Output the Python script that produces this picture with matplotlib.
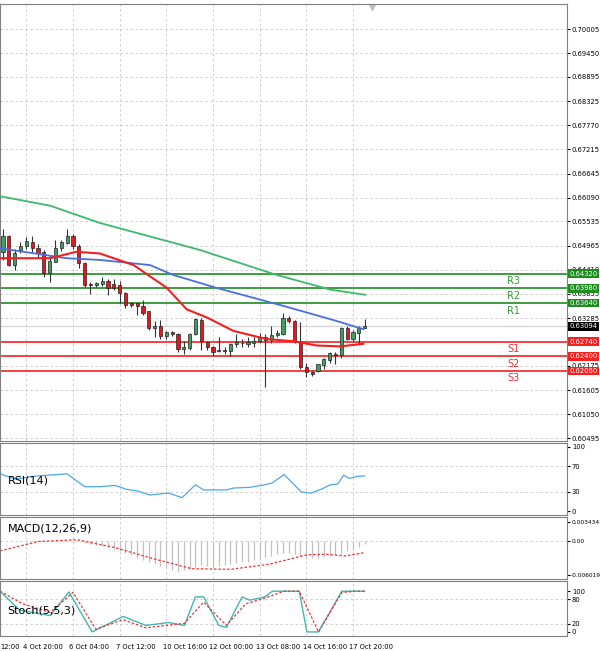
import numpy as np
import matplotlib
matplotlib.use("Agg")
from matplotlib import pyplot as plt

# OHLC candles (open, close, high, low)
opens = [0.6483, 0.6518, 0.6452, 0.6487, 0.6497, 0.6506, 0.6491, 0.6481, 0.6433, 0.6460,
         0.6492, 0.6504, 0.6520, 0.6497, 0.6456, 0.6408, 0.6405, 0.6408, 0.6414, 0.6407,
         0.6406, 0.6387, 0.6364, 0.6364, 0.6357, 0.6344, 0.6305, 0.6311, 0.6288, 0.6295,
         0.6292, 0.6257, 0.6259, 0.6292, 0.6324, 0.6272, 0.6262, 0.6253, 0.6253, 0.6252,
         0.6268, 0.6270, 0.6269, 0.6270, 0.6276, 0.6285, 0.6278, 0.6290, 0.6292, 0.6328,
         0.6322, 0.6272, 0.6215, 0.6203, 0.6206, 0.6220, 0.6231, 0.6243, 0.6242, 0.6305,
         0.6280, 0.6294, 0.6306]
closes = [0.6518, 0.6452, 0.6480, 0.6497, 0.6508, 0.6491, 0.6479, 0.6433, 0.6460, 0.6491,
          0.6506, 0.6520, 0.6497, 0.6456, 0.6406, 0.6405, 0.6410, 0.6414, 0.6399, 0.6399,
          0.6387, 0.6360, 0.6360, 0.6357, 0.6341, 0.6305, 0.6311, 0.6288, 0.6295, 0.6291,
          0.6257, 0.6262, 0.6292, 0.6326, 0.6275, 0.6261, 0.6249, 0.6252, 0.6252, 0.6269,
          0.6272, 0.6271, 0.6272, 0.6276, 0.6285, 0.6278, 0.6290, 0.6293, 0.6328, 0.6321,
          0.6275, 0.6215, 0.6203, 0.6198, 0.6221, 0.6232, 0.6246, 0.6244, 0.6305, 0.6280,
          0.6295, 0.6305, 0.6309]
highs = [0.6537, 0.6521, 0.6490, 0.6505, 0.6518, 0.6520, 0.6500, 0.6488, 0.6475, 0.6510,
         0.6510, 0.6535, 0.6525, 0.6500, 0.6460, 0.6412, 0.6413, 0.6425, 0.6420, 0.6420,
         0.6415, 0.6390, 0.6367, 0.6365, 0.6370, 0.6345, 0.6322, 0.6325, 0.6298, 0.6298,
         0.6295, 0.6275, 0.6295, 0.6330, 0.6330, 0.6275, 0.6265, 0.6285, 0.6262, 0.6272,
         0.6292, 0.6280, 0.6285, 0.6285, 0.6295, 0.6292, 0.6310, 0.6300, 0.6340, 0.6333,
         0.6325, 0.6320, 0.6225, 0.6205, 0.6222, 0.6235, 0.6250, 0.6250, 0.6308, 0.6310,
         0.6302, 0.6310, 0.6327]
lows = [0.6464, 0.6449, 0.6440, 0.6480, 0.6490, 0.6480, 0.6470, 0.6425, 0.6412, 0.6460,
        0.6485, 0.6500, 0.6490, 0.6445, 0.6400, 0.6385, 0.6400, 0.6403, 0.6383, 0.6395,
        0.6365, 0.6352, 0.6355, 0.6335, 0.6335, 0.6300, 0.6285, 0.6280, 0.6280, 0.6288,
        0.6250, 0.6245, 0.6255, 0.6290, 0.6255, 0.6255, 0.6240, 0.6250, 0.6245, 0.6240,
        0.6262, 0.6262, 0.6262, 0.6262, 0.6270, 0.6168, 0.6270, 0.6285, 0.6290, 0.6318,
        0.6272, 0.6210, 0.6192, 0.6195, 0.6203, 0.6210, 0.6225, 0.6222, 0.6235, 0.6278,
        0.6275, 0.6268, 0.6305]

# moving averages (bar index, value)
ma_green_x = [-0.5, 8.1, 16.6, 33.8, 46.7, 56.1, 62.1]
ma_green_y = [0.6612, 0.6590, 0.6550, 0.6487, 0.6430, 0.6395, 0.6383]
ma_blue_x = [-0.5, 10.9, 16.6, 25.2, 29.2, 36.6, 48.1, 56.7, 61.8]
ma_blue_y = [0.6491, 0.6468, 0.6464, 0.6452, 0.6429, 0.6399, 0.6357, 0.6324, 0.6303]
ma_red_x = [-0.5, 8.1, 12.6, 16.6, 22.4, 28.1, 31.5, 35.0, 39.5, 45.2, 49.8, 53.8, 57.8, 61.8]
ma_red_y = [0.6468, 0.6468, 0.6483, 0.6479, 0.6452, 0.6399, 0.6349, 0.6330, 0.6299,
            0.6280, 0.6275, 0.6265, 0.6263, 0.6269]

res_levels = [0.64320, 0.63980, 0.63640]
res_names = ["R3", "R2", "R1"]
sup_levels = [0.62740, 0.62400, 0.62060]
sup_names = ["S1", "S2", "S3"]
last_price = 0.63094

price_ticks = [0.70005, 0.69450, 0.68895, 0.68325, 0.67770, 0.67215, 0.66645, 0.66090,
               0.65535, 0.64965, 0.64410, 0.63855, 0.63285, 0.62175, 0.61605, 0.61050, 0.60495]

rsi_x = [-0.5, 2.1, 6.1, 11, 14, 16.6, 19.2, 21.2, 23.2, 25.2, 27.1, 28.4, 30.7, 33, 34.4,
         38.3, 39.6, 42.3, 44.9, 46.2, 48.2, 51.1, 52.8, 54.8, 56.1, 57.4, 58.4, 59.4, 60.7, 62]
rsi_y = [58, 50, 55, 58, 38, 38, 40, 34, 31, 25, 27, 28, 21, 41, 33, 33, 36, 37, 41, 44,
         57, 30, 28, 35, 41, 42, 56, 51, 54, 55]

macd_hist = [0, 0, 0, 0, 0, 0, 0, 0, 0, 0, 0, 0, 0, 0, -0.0002, -0.0004, -0.0006, -0.0008,
             -0.0010, -0.0013, -0.0017, -0.0021, -0.0025, -0.0029, -0.0033, -0.0037, -0.0040,
             -0.0044, -0.0048, -0.0051, -0.0054, -0.0052, -0.0050, -0.0046, -0.0043, -0.0044,
             -0.0045, -0.0044, -0.0043, -0.0040, -0.0038, -0.0037, -0.0036, -0.0033, -0.0031,
             -0.0028, -0.0026, -0.0023, -0.0020, -0.0021, -0.0022, -0.0026, -0.0030, -0.0030,
             -0.0030, -0.0028, -0.0026, -0.0024, -0.0022, -0.0018, -0.0015, -0.0010, -0.0005]
macd_sig_x = [-0.5, 6.1, 12.7, 19.2, 25.8, 32.4, 39, 45.6, 52.1, 55.4, 58.7, 62]
macd_sig_y = [-0.0017, 0.0, 0.0003, -0.0011, -0.0031, -0.0049, -0.0050, -0.0041,
              -0.0024, -0.0023, -0.0026, -0.0020]

stoch_k_x = [-0.5, 2.8, 8.1, 11.3, 15.3, 20.6, 24.5, 28.4, 31.1, 33, 34.4, 37, 38.3, 41,
             42.3, 44.9, 46.2, 48.8, 50.8, 52.1, 54.1, 58.1, 59.4, 62]
stoch_k_y = [100, 54, 40, 98, 0, 38, 16, 23, 16, 86, 86, 16, 11, 86, 78, 86, 100, 100,
             100, 0, 0, 100, 100, 100]
stoch_d_x = [-0.5, 3.4, 8.1, 12, 15.9, 20.6, 24.5, 31.1, 34.4, 38.3, 41.6, 44.9, 48.2,
             50.8, 54.1, 58.1, 60.7, 62]
stoch_d_y = [100, 69, 48, 97, 7, 30, 10, 21, 73, 16, 69, 83, 100, 100, 0, 97, 100, 100]

date_idx = [4, 12, 20, 28, 36, 44, 52, 60]
date_labels = ["4 Oct 20:00", "6 Oct 04:00", "7 Oct 12:00", "10 Oct 16:00",
               "12 Oct 00:00", "13 Oct 08:00", "14 Oct 16:00", "17 Oct 20:00"]

W, H = 600, 651
fig = plt.figure(figsize=(W / 100, H / 100), dpi=100)
XL = (-0.51, 96.7)
RIGHT = 567 / W
GRID = dict(color="#c8c8c8", linestyle=(0, (3, 3)), linewidth=0.6)
FS = 4.9


def panel(top_px, bot_px):
    ax = fig.add_axes([0, 1 - bot_px / H, RIGHT, (bot_px - top_px) / H])
    ax.set_xlim(*XL)
    ax.set_xticks([])
    ax.yaxis.tick_right()
    ax.tick_params(axis="y", labelsize=FS, length=2, pad=1.5)
    for s in ax.spines.values():
        s.set_color("#808080")
        s.set_linewidth(0.8)
    for i in date_idx:
        ax.axvline(i, zorder=0, **GRID)
    return ax


def price_box(ax, lv, fc):
    ax.text(1.004, lv, "%.5f" % lv, transform=ax.get_yaxis_transform(), fontsize=FS,
            color="white", va="center", ha="left", zorder=10, clip_on=False,
            bbox=dict(boxstyle="square,pad=0.2", fc=fc, ec="none"))


# main price panel
ax = panel(4, 441)
ax.set_ylim(0.6043, 0.7059)
ax.set_yticks(price_ticks)
ax.set_yticklabels(["%.5f" % t for t in price_ticks])
for t in price_ticks:
    ax.axhline(t, zorder=0, **GRID)

idx = np.arange(len(opens))
o = np.array(opens); c = np.array(closes)
up = c >= o
ax.vlines(idx, lows, highs, color="#333333", linewidth=0.8, zorder=3)
ax.bar(idx, np.abs(c - o) + 0.00005, bottom=np.minimum(o, c), width=0.55,
       color=np.where(up, "#3f9f5f", "#e8161b"), edgecolor="#222222", linewidth=0.5, zorder=4)

ax.plot(ma_green_x, ma_green_y, color="#3cba6c", linewidth=1.3, zorder=5)
ax.plot(ma_blue_x, ma_blue_y, color="#4a6fe0", linewidth=1.3, zorder=5)
ax.plot(ma_red_x, ma_red_y, color="#f02020", linewidth=1.5, zorder=5)

ax.axhline(last_price, color="#d8d8d8", linewidth=1.0, zorder=1)
for lv, nm in zip(res_levels, res_names):
    ax.axhline(lv, color="#1e8c1e", linewidth=1.2, zorder=2)
    ax.text(87.5, lv - 0.0006, nm, color="#3a9a3a", fontsize=7, ha="center", va="top")
    price_box(ax, lv, "#1e8c1e")
for lv, nm in zip(sup_levels, sup_names):
    ax.axhline(lv, color="#f52020", linewidth=1.2, zorder=2)
    ax.text(87.5, lv - 0.0006, nm, color="#f03030", fontsize=7, ha="center", va="top")
    price_box(ax, lv, "#f52020")
price_box(ax, last_price, "black")
ax.plot([63.3], [0.7052], marker="v", color="#c0c0c0", markersize=4)

# RSI
ax2 = panel(443, 515)
ax2.set_ylim(-6, 106)
ax2.set_yticks([100, 70, 30, 0])
for t in [70, 30]:
    ax2.axhline(t, zorder=0, **GRID)
ax2.plot(rsi_x, rsi_y, color="#4ea6ee", linewidth=0.9)
ax2.text(0.8, 48, "RSI(14)", fontsize=8, va="center")

# MACD
ax3 = panel(517, 579)
ax3.set_ylim(-0.00674, 0.00439)
ax3.set_yticks([0.003434, 0.0, -0.006019])
ax3.set_yticklabels(["0.003434", "0.00", "-0.006019"])
ax3.tick_params(axis="y", labelsize=4.2, pad=1)
ax3.axhline(0, zorder=0, **GRID)
ax3.vlines(np.arange(len(macd_hist)), 0, macd_hist, color="#c0c0c0", linewidth=0.9)
ax3.plot(macd_sig_x, macd_sig_y, color="#ee3333", linewidth=0.9, linestyle=(0, (2, 1.5)))
ax3.text(0.8, 0.0023, "MACD(12,26,9)", fontsize=8, va="center")

# Stochastic
ax4 = panel(581, 636)
ax4.set_ylim(-10, 125)
ax4.set_yticks([100, 80, 20, 0])
for t in [80, 20]:
    ax4.axhline(t, zorder=0, **GRID)
ax4.plot(stoch_k_x, stoch_k_y, color="#40b8b0", linewidth=1.0)
ax4.plot(stoch_d_x, stoch_d_y, color="#ee3333", linewidth=0.9, linestyle=(0, (2, 1.5)))
ax4.text(0.8, 52, "Stoch(5,5,3)", fontsize=8, va="center")

# date labels
ax4.text(0, -0.2, "12:00", transform=ax4.transAxes, fontsize=FS, va="center")
for i, lab in zip(date_idx, date_labels):
    ax4.text(i - 0.6, -0.2, lab, transform=ax4.get_xaxis_transform(), fontsize=FS,
             va="center", ha="left", clip_on=False)

fig.savefig("out.png", dpi=100)
